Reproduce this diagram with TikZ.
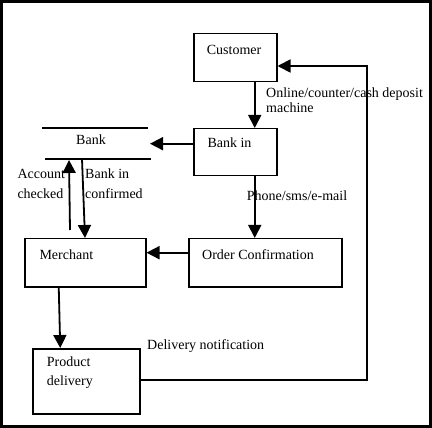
\documentclass[tikz,border=0pt]{standalone}
\usepackage{fontspec}
\setmainfont{Liberation Serif}
\usetikzlibrary{arrows.meta}
\begin{document}
\begin{tikzpicture}[x=1pt,y=-1pt,
  box/.style={draw,line width=1.5pt,inner sep=0pt,anchor=north west},
  txt/.style={anchor=base west,inner sep=0pt,font=\fontsize{14}{15}\selectfont},
  conn/.style={line width=1.8pt},
  arr/.style={conn,-{Triangle[length=13pt,width=13pt]}}]
\useasboundingbox (0,0) rectangle (432,428);
\draw[line width=3pt] (1.5,1.5) rectangle (430.5,426.5);
% boxes
\node[box,minimum width=83pt,minimum height=48pt] (cust) at (193,33) {};
\node[box,minimum width=83pt,minimum height=47pt] (bankin) at (193,128) {};
\node[box,minimum width=121pt,minimum height=48pt] (merch) at (24,238) {};
\node[box,minimum width=153pt,minimum height=48pt] (order) at (188,238) {};
\node[box,minimum width=107pt,minimum height=65pt] (prod) at (32,348) {};
% bank store
\coordinate (banktl) at (42,128); \coordinate (banktr) at (148,128);
\coordinate (bankbl) at (45,159); \coordinate (bankbr) at (151,159);
\draw[line width=1.5pt] (banktl) -- (banktr);
\draw[line width=1.5pt] (bankbl) -- (bankbr);
\coordinate (bankin-w) at (150,143.7);
\coordinate (acc-top) at (69,160);
\coordinate (acc-bot) at (70,230);
\coordinate (conf-top) at (82,159);
% texts
\node[txt] (t-cust) at (206.7,54.5) {Customer};
\node[txt] (t-bankin) at (207.3,147.7) {Bank in};
\node[txt] (t-bank) at (76,144.3) {Bank};
\node[txt] (t-merch) at (39.3,259) {Merchant};
\node[txt] (t-order) at (202,259) {Order Confirmation};
\node[txt] (t-prod1) at (46.7,366) {Product};
\node[txt] (t-prod2) at (46.7,385) {delivery};
\node[txt] (l-online1) at (266,97.7) {Online/counter/cash deposit};
\node[txt] (l-online2) at (266,113) {machine};
\node[txt] (l-phone) at (246.7,200.7) {Phone/sms/e-mail};
\node[txt] (l-acc1) at (17.3,178.3) {Account};
\node[txt] (l-acc2) at (17.3,198.3) {checked};
\node[txt] (l-conf1) at (85,178.3) {Bank in};
\node[txt] (l-conf2) at (85,198.3) {confirmed};
\node[txt] (l-deliv) at (147,349.3) {Delivery notification};
% connectors
\draw[arr] ([xshift=19.5pt]cust.south) -- ([xshift=19.5pt]bankin.north);
\draw[arr] (bankin.west |- bankin-w) -- (bankin-w);
\draw[arr] ([xshift=19.5pt]bankin.south) -- ([xshift=-10.5pt]order.north);
\draw[arr] (order.west |- 0,252.7) -- (merch.east |- 0,252.7);
\draw[arr] (acc-bot) -- (acc-top);
\draw[arr] (conf-top) -- (85,238);
\draw[arr] ([xshift=-26.5pt]merch.south) -- ([xshift=-26pt]prod.north);
\coordinate (ret1) at (367,380);
\coordinate (ret2) at (367,66);
\draw[arr] (prod.east |- ret1) -- (ret1) -- (ret2) -- (cust.east |- ret2);
\end{tikzpicture}
\end{document}
